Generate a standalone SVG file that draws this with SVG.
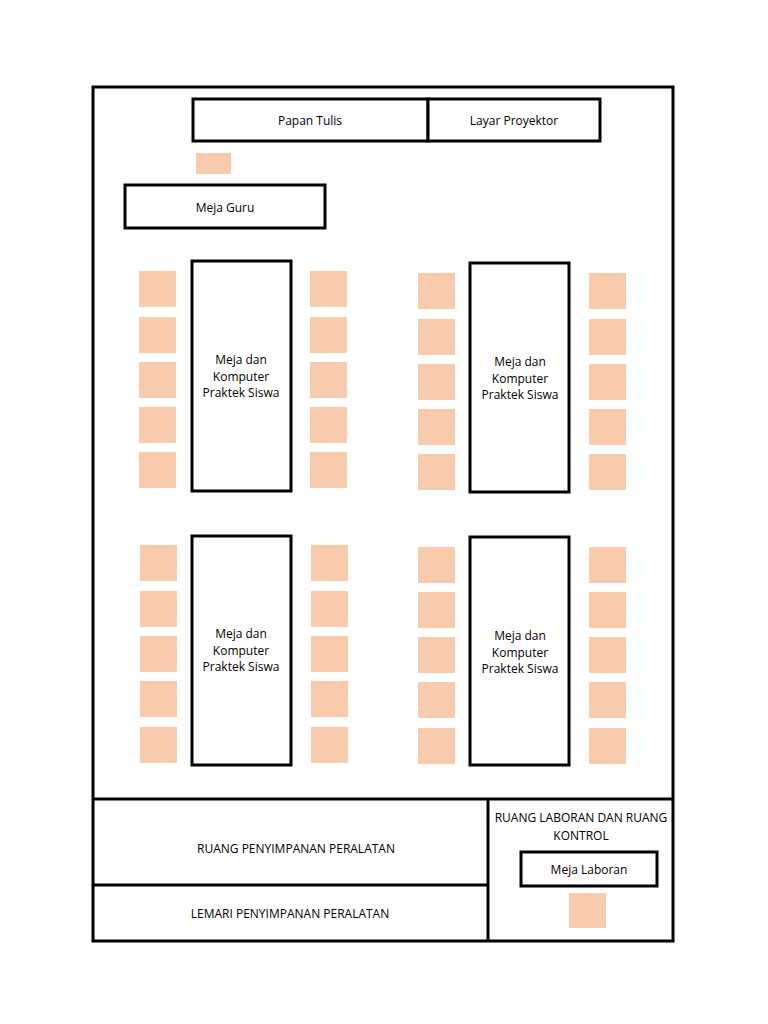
<svg xmlns="http://www.w3.org/2000/svg" width="768" height="1024" viewBox="0 0 768 1024">
<style>
.b{fill:#fff;stroke:#000;stroke-width:3}
.c{fill:#F8CBAD}
text{font-family:"Open Sans","Liberation Sans",sans-serif;font-size:12px;fill:#000;text-anchor:middle}
.l{stroke:#000;stroke-width:3}
</style>
<rect width="768" height="1024" fill="#fff"/>
<rect id="room" class="b" x="93" y="87" width="580" height="854"/>
<g id="papan"><rect class="b" x="193" y="99" width="235" height="42"/><text x="310" y="125">Papan Tulis</text></g>
<g id="layar"><rect class="b" x="428" y="99" width="172" height="42"/><text x="514" y="125">Layar Proyektor</text></g>
<rect class="c" x="196" y="153" width="35" height="21"/>
<g id="guru"><rect class="b" x="125" y="185" width="200" height="43"/><text x="225" y="212">Meja Guru</text></g>
<g id="t1"><rect class="b" x="192" y="261" width="99" height="230"/><text x="241" y="364">Meja dan</text><text x="241" y="381">Komputer</text><text x="241" y="397">Praktek Siswa</text></g>
<g id="t2"><rect class="b" x="470" y="263" width="99" height="229"/><text x="520" y="366">Meja dan</text><text x="520" y="383">Komputer</text><text x="520" y="399">Praktek Siswa</text></g>
<g id="t3"><rect class="b" x="192" y="536" width="99" height="229"/><text x="241" y="638">Meja dan</text><text x="241" y="655">Komputer</text><text x="241" y="671">Praktek Siswa</text></g>
<g id="t4"><rect class="b" x="470" y="537" width="99" height="228"/><text x="520" y="640">Meja dan</text><text x="520" y="657">Komputer</text><text x="520" y="673">Praktek Siswa</text></g>
<g id="chairs">
<g transform="translate(139,271)"><rect class="c" width="37" height="36"/><rect class="c" y="46" width="37" height="36"/><rect class="c" y="91" width="37" height="36"/><rect class="c" y="136" width="37" height="36"/><rect class="c" y="181" width="37" height="36"/></g>
<g transform="translate(310,271)"><rect class="c" width="37" height="36"/><rect class="c" y="46" width="37" height="36"/><rect class="c" y="91" width="37" height="36"/><rect class="c" y="136" width="37" height="36"/><rect class="c" y="181" width="37" height="36"/></g>
<g transform="translate(418,273)"><rect class="c" width="37" height="36"/><rect class="c" y="46" width="37" height="36"/><rect class="c" y="91" width="37" height="36"/><rect class="c" y="136" width="37" height="36"/><rect class="c" y="181" width="37" height="36"/></g>
<g transform="translate(589,273)"><rect class="c" width="37" height="36"/><rect class="c" y="46" width="37" height="36"/><rect class="c" y="91" width="37" height="36"/><rect class="c" y="136" width="37" height="36"/><rect class="c" y="181" width="37" height="36"/></g>
<g transform="translate(140,545)"><rect class="c" width="37" height="36"/><rect class="c" y="46" width="37" height="36"/><rect class="c" y="91" width="37" height="36"/><rect class="c" y="136" width="37" height="36"/><rect class="c" y="182" width="37" height="36"/></g>
<g transform="translate(311,545)"><rect class="c" width="37" height="36"/><rect class="c" y="46" width="37" height="36"/><rect class="c" y="91" width="37" height="36"/><rect class="c" y="136" width="37" height="36"/><rect class="c" y="182" width="37" height="36"/></g>
<g transform="translate(418,547)"><rect class="c" width="37" height="36"/><rect class="c" y="45" width="37" height="36"/><rect class="c" y="90" width="37" height="36"/><rect class="c" y="135" width="37" height="36"/><rect class="c" y="181" width="37" height="36"/></g>
<g transform="translate(589,547)"><rect class="c" width="37" height="36"/><rect class="c" y="45" width="37" height="36"/><rect class="c" y="90" width="37" height="36"/><rect class="c" y="135" width="37" height="36"/><rect class="c" y="181" width="37" height="36"/></g>
</g>
<g id="bottom">
<line class="l" x1="93" y1="799" x2="673" y2="799"/>
<line class="l" x1="488" y1="799" x2="488" y2="941"/>
<line class="l" x1="93" y1="885" x2="488" y2="885"/>
<text x="296" y="853">RUANG PENYIMPANAN PERALATAN</text>
<text x="290" y="918">LEMARI PENYIMPANAN PERALATAN</text>
<text x="581" y="822">RUANG LABORAN DAN RUANG</text>
<text x="581" y="840">KONTROL</text>
</g>
<g id="laboran"><rect class="b" x="521" y="852" width="136" height="34"/><text x="589" y="874">Meja Laboran</text></g>
<rect class="c" x="569" y="893" width="37" height="35"/>
</svg>
